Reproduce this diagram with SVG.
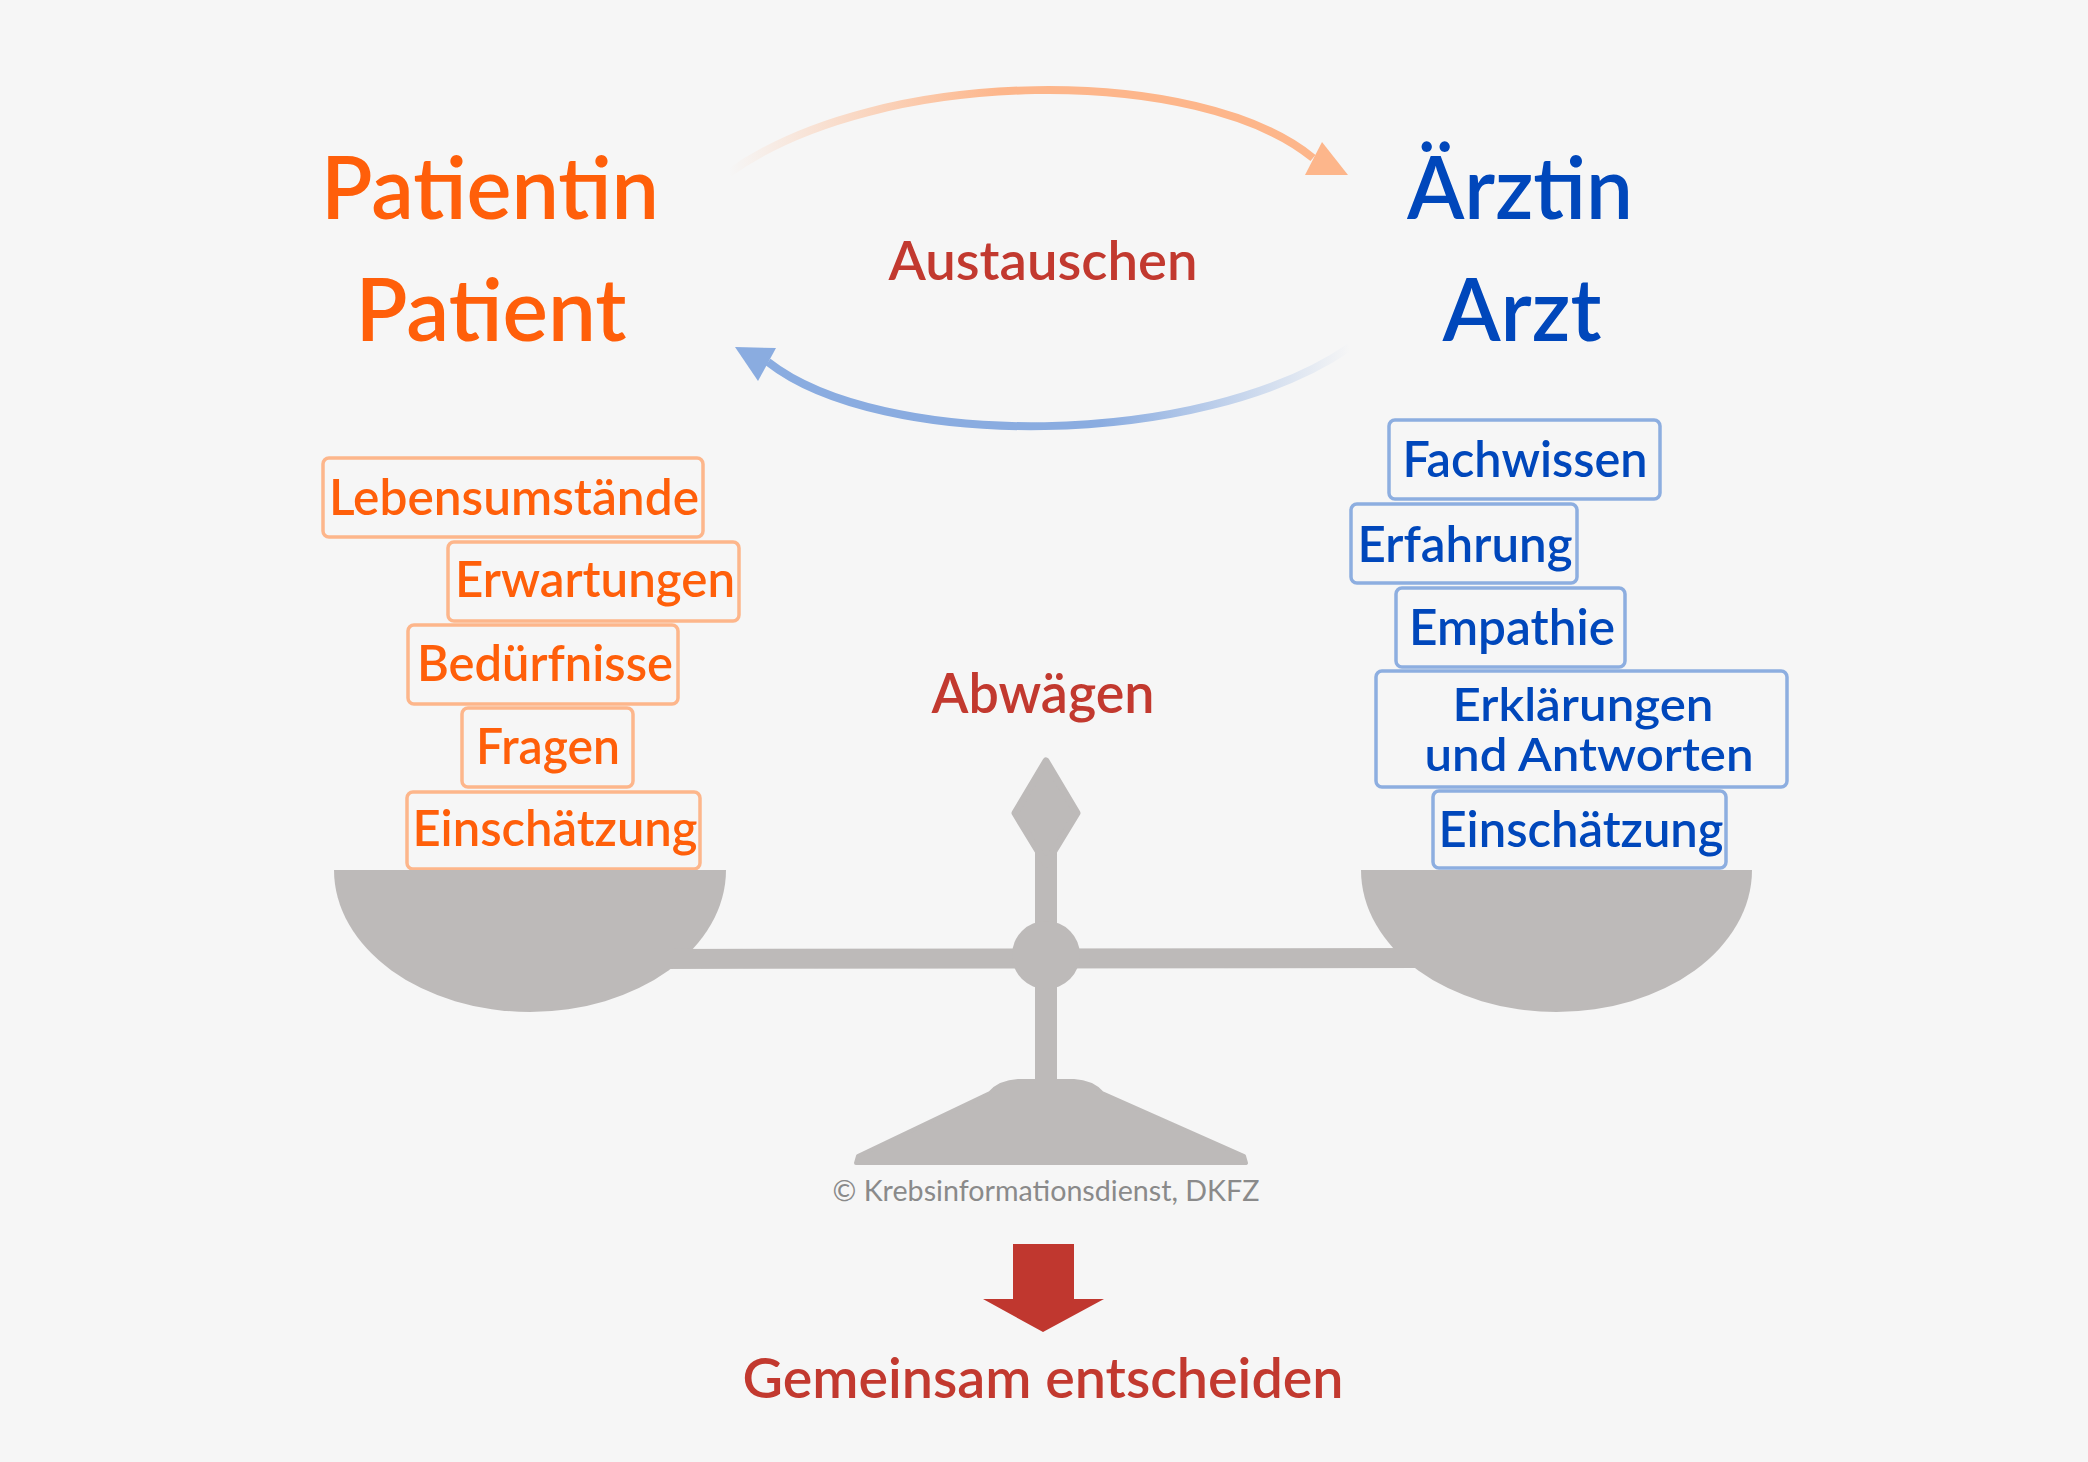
<svg xmlns="http://www.w3.org/2000/svg" width="2088" height="1462" viewBox="0 0 2088 1462">
<defs>
<linearGradient id="gOrange" gradientUnits="userSpaceOnUse" x1="729" y1="0" x2="1000" y2="0">
<stop offset="0" stop-color="#FDB68B" stop-opacity="0"/>
<stop offset="1" stop-color="#FDB68B" stop-opacity="1"/>
</linearGradient>
<linearGradient id="gBlue" gradientUnits="userSpaceOnUse" x1="1350" y1="0" x2="1100" y2="0">
<stop offset="0" stop-color="#8AACE0" stop-opacity="0"/>
<stop offset="1" stop-color="#8AACE0" stop-opacity="1"/>
</linearGradient>
<style>
.t{font-family:Lato,"Noto Sans","Liberation Sans",sans-serif;font-weight:600;text-anchor:middle}
.big{font-size:86px}
.lbl{font-size:49px}
.or{fill:#FF5F0A}
.bl{fill:#0047BB}
.red{fill:#C2392F}
.obox{fill:#F6F6F6;stroke:#FDB68B;stroke-width:3.5}
.bbox{fill:#F6F6F6;stroke:#8DAEE0;stroke-width:3.5}
.gray{fill:#BDBAB9}
</style>
</defs>
<rect width="2088" height="1462" fill="#F6F6F6"/>

<g id="title-patient">
<text class="t big or" x="490" y="219" textLength="338" lengthAdjust="spacingAndGlyphs">Patientin</text>
<text class="t big or" x="491" y="341" textLength="271" lengthAdjust="spacingAndGlyphs">Patient</text>
</g>
<g id="title-doctor">
<text class="t big bl" x="1520" y="219" textLength="226" lengthAdjust="spacingAndGlyphs">Ärztin</text>
<text class="t big bl" x="1522" y="341" textLength="159" lengthAdjust="spacingAndGlyphs">Arzt</text>
</g>
<g id="label-austauschen">
<text class="t red" x="1043" y="280" font-size="53" textLength="309" lengthAdjust="spacingAndGlyphs">Austauschen</text>
</g>

<g id="connectors">
<path d="M729,173 C880,65 1200,65 1313,158" fill="none" stroke="url(#gOrange)" stroke-width="8"/>
<polygon points="1322,142 1348,175 1305,175" fill="#FDB68B"/>
<path d="M768,362 C880,450 1200,450 1350,347" fill="none" stroke="url(#gBlue)" stroke-width="8"/>
<polygon points="735,347 776,348 758,381" fill="#8AACE0"/>
</g>

<g id="patient-items">
<g id="p-lebensumstaende"><rect class="obox" x="323" y="458" width="380" height="79" rx="6"/><text class="t lbl or" x="514" y="515" textLength="370" lengthAdjust="spacingAndGlyphs">Lebensumstände</text></g>
<g id="p-erwartungen"><rect class="obox" x="448" y="542" width="291" height="79" rx="6"/><text class="t lbl or" x="595" y="597" textLength="280" lengthAdjust="spacingAndGlyphs">Erwartungen</text></g>
<g id="p-beduerfnisse"><rect class="obox" x="408" y="625" width="270" height="79" rx="6"/><text class="t lbl or" x="545" y="681" textLength="256" lengthAdjust="spacingAndGlyphs">Bedürfnisse</text></g>
<g id="p-fragen"><rect class="obox" x="462" y="708" width="171" height="79" rx="6"/><text class="t lbl or" x="548" y="764" textLength="144" lengthAdjust="spacingAndGlyphs">Fragen</text></g>
<g id="p-einschaetzung"><rect class="obox" x="407" y="792" width="293" height="77" rx="6"/><text class="t lbl or" x="555" y="846" textLength="285" lengthAdjust="spacingAndGlyphs">Einschätzung</text></g>
</g>

<g id="doctor-items">
<g id="d-fachwissen"><rect class="bbox" x="1389" y="420" width="271" height="79" rx="6"/><text class="t lbl bl" x="1525" y="477" textLength="245" lengthAdjust="spacingAndGlyphs">Fachwissen</text></g>
<g id="d-erfahrung"><rect class="bbox" x="1351" y="504" width="226" height="79" rx="6"/><text class="t lbl bl" x="1465" y="562" textLength="215" lengthAdjust="spacingAndGlyphs">Erfahrung</text></g>
<g id="d-empathie"><rect class="bbox" x="1396" y="588" width="229" height="79" rx="6"/><text class="t lbl bl" x="1512" y="645" textLength="206" lengthAdjust="spacingAndGlyphs">Empathie</text></g>
<g id="d-erklaerungen"><rect class="bbox" x="1376" y="671" width="411" height="116" rx="6"/><text class="t bl" font-size="47" x="1583" y="721" textLength="261" lengthAdjust="spacingAndGlyphs">Erklärungen</text><text class="t bl" font-size="47" x="1589" y="771" textLength="329" lengthAdjust="spacingAndGlyphs">und Antworten</text></g>
<g id="d-einschaetzung"><rect class="bbox" x="1433" y="791" width="293" height="77" rx="6"/><text class="t lbl bl" x="1581" y="847" textLength="285" lengthAdjust="spacingAndGlyphs">Einschätzung</text></g>
</g>

<g id="label-abwaegen">
<text class="t red" x="1043" y="713" font-size="55" textLength="223" lengthAdjust="spacingAndGlyphs">Abwägen</text>
</g>

<g id="scale">
<path class="gray" d="M334,870 H726 A196,142 0 0 1 334,870 Z"/>
<path class="gray" d="M1361,870 H1752 A195.5,142 0 0 1 1361,870 Z"/>
<path class="gray" d="M660,949 L1420,948 L1420,968 L660,969 Z"/>
<rect class="gray" x="1035" y="840" width="22" height="245"/>
<polygon class="gray" points="1046,761 1077,813 1046,864 1015,813" stroke="#BDBAB9" stroke-width="7" stroke-linejoin="round"/>
<circle class="gray" cx="1046" cy="955" r="34"/>
<path class="gray" d="M1046,1081 L1074,1081 Q1092,1082 1102,1093 L1244,1156 L1246,1163 L856,1163 L858,1156 L990,1093 Q1000,1082 1018,1081 Z" stroke="#BDBAB9" stroke-width="4" stroke-linejoin="round"/>
</g>

<g id="copyright">
<text x="1046" y="1201" font-family="Lato,'Noto Sans','Liberation Sans',sans-serif" font-size="28" fill="#8A8A8A" text-anchor="middle" textLength="427" lengthAdjust="spacingAndGlyphs">© Krebsinformationsdienst, DKFZ</text>
</g>

<g id="decision-arrow">
<polygon points="1013,1244 1074,1244 1074,1299 1104,1299 1043,1332 983,1299 1013,1299" fill="#C0372F"/>
</g>
<g id="label-entscheiden">
<text class="t red" x="1043" y="1398" font-size="55" textLength="601" lengthAdjust="spacingAndGlyphs">Gemeinsam entscheiden</text>
</g>
</svg>
